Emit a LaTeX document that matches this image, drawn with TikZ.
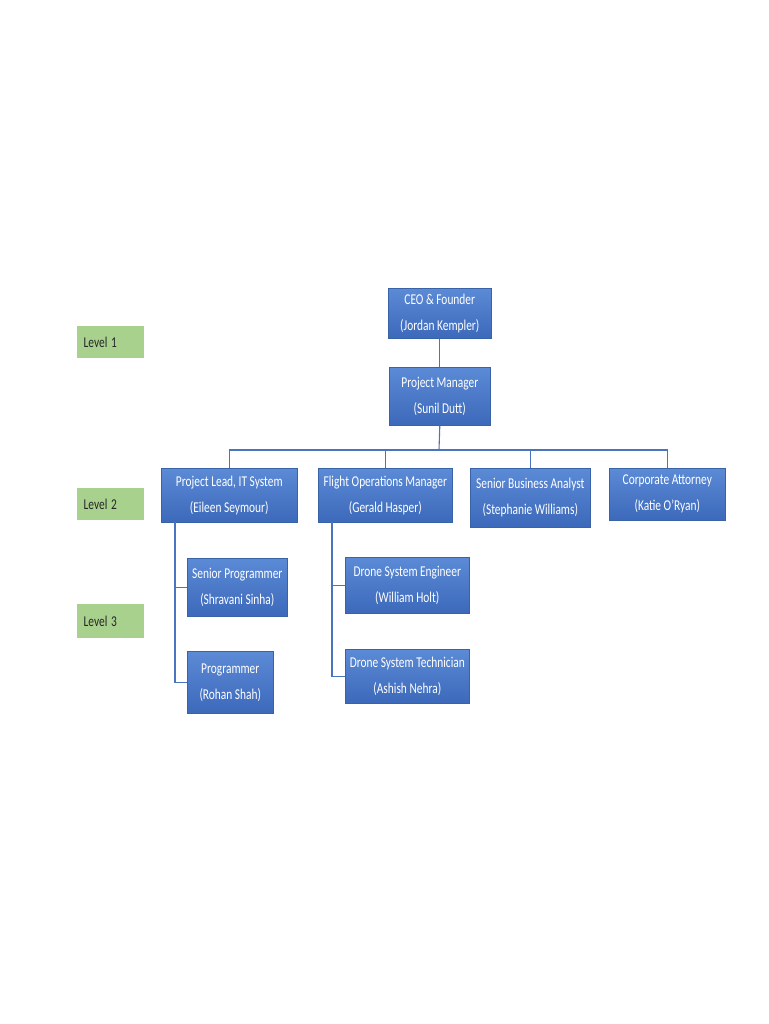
\documentclass[tikz,border=0pt]{standalone}
\usepackage{fontspec}
\usepackage{graphicx}
\setmainfont{Carlito}
\newcommand{\cnd}[1]{\scalebox{0.76}[1]{#1}}
\newcommand{\two}[2]{\cnd{#1}\\[8pt]\cnd{#2}}
\begin{document}
\begin{tikzpicture}[x=1pt,y=-1pt,
  box/.style={draw=boxedge, line width=0.6pt, top color=boxtop, bottom color=boxbot,
    text=white, align=center, font=\fontsize{15}{18}\selectfont, inner sep=0pt, anchor=north west},
  lvl/.style={fill=lvlgreen, draw=none, anchor=north west, inner sep=0pt,
    font=\fontsize{15}{17}\selectfont, text=black!85, text width=60pt, align=left},
  conn/.style={draw=linecol, line width=1.1pt}]
\definecolor{boxtop}{HTML}{5B8AD6}
\definecolor{boxbot}{HTML}{3C69BA}
\definecolor{boxedge}{HTML}{3A62A6}
\definecolor{lvlgreen}{HTML}{A9D18E}
\definecolor{linecol}{HTML}{4A74BE}
\useasboundingbox (0,0) rectangle (768,1024);
\fill[white] (0,0) rectangle (768,1024);

\node[lvl, minimum width=67pt, minimum height=32pt] (l1) at (77,326) {\hspace*{3pt}\cnd{Level 1}};
\node[lvl, minimum width=67pt, minimum height=32pt] (l2) at (77,488) {\hspace*{3pt}\cnd{Level 2}};
\node[lvl, minimum width=67pt, minimum height=34pt] (l3) at (77,604) {\hspace*{3pt}\cnd{Level 3}};

\node[box, minimum width=103pt, minimum height=50pt] (ceo) at (388,288) {\two{CEO \& Founder}{(Jordan Kempler)}};
\node[box, minimum width=101pt, minimum height=58pt] (pm) at (389,367) {\two{Project Manager}{(Sunil Dutt)}};
\node[box, minimum width=136pt, minimum height=54pt] (pl) at (161,468) {\two{Project Lead, IT System}{(Eileen Seymour)}};
\node[box, minimum width=134pt, minimum height=54pt] (fo) at (318,468) {\two{Flight Operations Manager}{(Gerald Hasper)}};
\node[box, minimum width=120pt, minimum height=59pt] (sba) at (470,468) {\two{Senior Business Analyst}{(Stephanie Williams)}};
\node[box, minimum width=116pt, minimum height=52pt] (ca) at (609,468) {\two{Corporate Attorney}{(Katie O'Ryan)}};
\node[box, minimum width=100pt, minimum height=58pt] (sp) at (187,558) {\two{Senior Programmer}{(Shravani Sinha)}};
\node[box, minimum width=86pt, minimum height=62pt] (pg) at (187,651) {\two{Programmer}{(Rohan Shah)}};
\node[box, minimum width=124pt, minimum height=56pt] (de) at (345,557) {\two{Drone System Engineer}{(William Holt)}};
\node[box, minimum width=124pt, minimum height=54pt] (dt) at (345,649) {\two{Drone System Technician}{(Ashish Nehra)}};

\coordinate (bus) at (439,450);
\draw[conn] (ceo.south) -- (pm.north);
\draw[conn] (pm.south) -- (bus);
\draw[conn] (pl.north) |- (bus) -| (ca.north);
\draw[conn] (fo.north) -- (fo.north |- bus);
\draw[conn] (sba.north) -- (sba.north |- bus);
\coordinate (plx) at (175,522);
\coordinate (fox) at (332,522);
\draw[conn] (plx) |- (sp.west);
\draw[conn] (plx) |- (pg.west);
\draw[conn] (fox) |- (de.west);
\draw[conn] (fox) |- (dt.west);
\end{tikzpicture}
\end{document}
